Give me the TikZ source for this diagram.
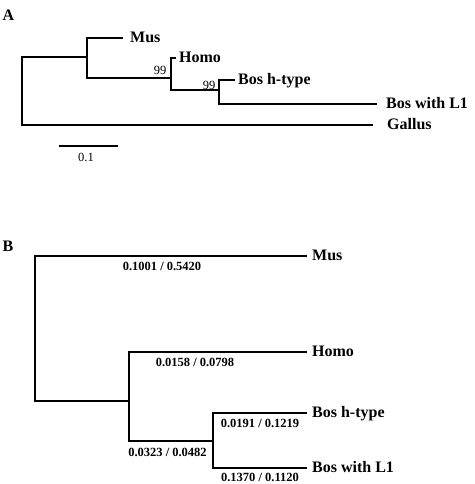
\documentclass[tikz,border=0pt]{standalone}
\usepackage{fontspec}
\setmainfont{Liberation Serif}
\begin{document}
\begin{tikzpicture}[x=1pt, y=-1pt,
  branch/.style={line width=1.6pt},
  taxon/.style={anchor=west, inner sep=0pt, text height=11pt, text depth=2.5pt, font=\fontsize{16}{18}\selectfont\bfseries},
  boot/.style={inner sep=0pt, font=\fontsize{12.5}{14}\selectfont},
  blen/.style={inner sep=0pt, font=\fontsize{12.5}{14}\selectfont\bfseries},
  panel/.style={inner sep=0pt, font=\fontsize{16}{18}\selectfont\bfseries}]
\useasboundingbox (0,0) rectangle (474,484);

% panel A
\node[panel] (pa) at (8.5,15.5) {A};
\coordinate (ar) at (22,91);
\coordinate (an1) at (87,57);
\coordinate (an2) at (171,78);
\coordinate (an3) at (219,90);
\coordinate (tmus) at (123,38);
\coordinate (thomo) at (176,58);
\coordinate (tbosh) at (235,80);
\coordinate (tbosl) at (377,104);
\coordinate (tgal) at (373,125);
\node[taxon] (mus) at (130,38) {Mus};
\node[taxon] (homo) at (179,58) {Homo};
\node[taxon] (bosh) at (238,80) {Bos h-type};
\node[taxon] (bosl) at (386,104) {Bos with L1};
\node[taxon] (gal) at (387,125) {Gallus};
\draw[branch] (ar) |- (an1);
\draw[branch] (ar) |- (tgal);
\draw[branch] (an1) |- (tmus);
\draw[branch] (an1) |- (an2);
\draw[branch] (an2) |- (thomo);
\draw[branch] (an2) |- (an3);
\draw[branch] (an3) |- (tbosh);
\draw[branch] (an3) |- (tbosl);
\node[boot] (bs1) at (160,70) {99};
\node[boot] (bs2) at (209,85) {99};
% scale bar
\coordinate (sb1) at (59,146);
\coordinate (sb2) at (118,146);
\draw[branch] (sb1) -- (sb2);
\node[boot] (sbl) at (86,157) {0.1};

% panel B
\node[panel] (pb) at (8,246) {B};
\coordinate (br) at (35,328);
\coordinate (bn2) at (129,401);
\coordinate (bn3) at (213,441);
\coordinate (umus) at (307,256);
\coordinate (uhomo) at (307,352);
\coordinate (ubosh) at (307,413);
\coordinate (ubosl) at (307,468);
\node[taxon] (mus2) at (312,256) {Mus};
\node[taxon] (homo2) at (312,352) {Homo};
\node[taxon] (bosh2) at (312,413) {Bos h-type};
\node[taxon] (bosl2) at (312,468) {Bos with L1};
\draw[branch, line width=1.9pt] (br) |- (umus);
\draw[branch, line width=1.9pt] (br) |- (bn2);
\draw[branch, line width=1.9pt] (bn2) |- (uhomo);
\draw[branch, line width=1.9pt] (bn2) |- (bn3);
\draw[branch, line width=1.9pt] (bn3) |- (ubosh);
\draw[branch, line width=1.9pt] (bn3) |- (ubosl);
\node[blen] (l1) at (162,266) {0.1001 / 0.5420};
\node[blen] (l2) at (195,362) {0.0158 / 0.0798};
\node[blen] (l3) at (167.5,452) {0.0323 / 0.0482};
\node[blen] (l4) at (260,423) {0.0191 / 0.1219};
\node[blen] (l5) at (260,477) {0.1370 / 0.1120};
\end{tikzpicture}
\end{document}
